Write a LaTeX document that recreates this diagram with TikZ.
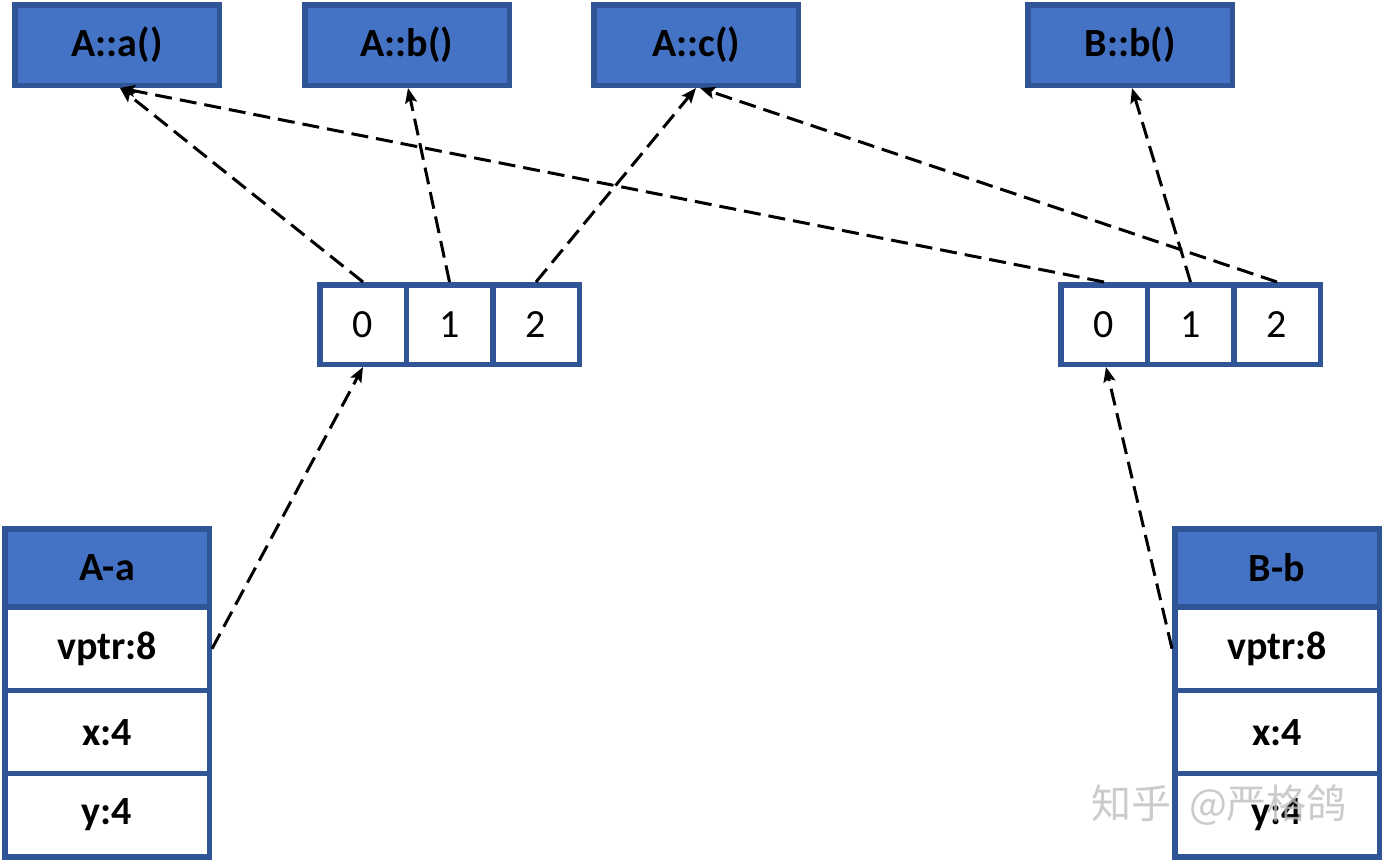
\documentclass[tikz,border=0pt]{standalone}
\usepackage{fontspec}
\setmainfont{Carlito}
\newfontfamily\cjk{Noto Sans CJK SC}
\usetikzlibrary{arrows.meta}
\definecolor{bd}{HTML}{2F5597}
\definecolor{bf}{HTML}{4472C4}
\tikzset{
  fnbox/.style={draw=bd, fill=bf, line width=5.5pt, minimum width=204.5pt, minimum height=80.5pt, inner sep=0pt, font=\bfseries\fontsize{40}{40}\selectfont},
  cell/.style={draw=bd, fill=white, line width=5.5pt, minimum width=86.5pt, minimum height=79.5pt, inner sep=0pt, font=\fontsize{40}{40}\selectfont},
  hdr/.style={draw=bd, fill=bf, line width=5.5pt, minimum width=204.5pt, minimum height=78pt, inner sep=0pt, font=\bfseries\fontsize{40}{40}\selectfont},
  row/.style={draw=bd, fill=white, line width=5.5pt, minimum width=204.5pt, minimum height=83.5pt, inner sep=0pt, font=\bfseries\fontsize{40}{40}\selectfont},
  conn/.style={draw=black, line width=3pt, dash pattern=on 17pt off 8pt, -{Stealth[length=15pt,width=12pt,inset=3pt]}}
}
\begin{document}
\begin{tikzpicture}[x=1pt,y=-1pt]
\useasboundingbox[fill=white] (0,0) rectangle (1384,863);
% function boxes
\node[fnbox] (Aa) at (117,45) {A::a()};
\node[fnbox] (Ab) at (407,45) {A::b()};
\node[fnbox] (Ac) at (696,45) {A::c()};
\node[fnbox] (Bb) at (1130,45) {B::b()};
% vtable A
\node[cell] (a0) at (363,324.5) {0};
\node[cell] (a1) at (449.5,324.5) {1};
\node[cell] (a2) at (536,324.5) {2};
% vtable B
\node[cell] (b0) at (1104,324.5) {0};
\node[cell] (b1) at (1190.5,324.5) {1};
\node[cell] (b2) at (1277,324.5) {2};
% object A
\node[hdr] (oah) at (107,568) {A-a};
\node[row] (oav) at (107,648.75) {vptr:8};
\node[row] (oax) at (107,732.25) {x:4};
\node[row] (oay) at (107,815) {y:4};
% object B
\node[hdr] (obh) at (1277,568) {B-b};
\node[row] (obv) at (1277,648.75) {vptr:8};
\node[row] (obx) at (1277,732.25) {x:4};
\node[row] (oby) at (1277,815) {y:4};
% connectors
\draw[conn] (a0.north) -- ([xshift=3pt]Aa.south);
\draw[conn] (a1.north) -- ([xshift=1pt]Ab.south);
\draw[conn] (a2.north) -- (Ac.south);
\draw[conn] (b0.north) -- ([xshift=3pt]Aa.south);
\draw[conn] (b1.north) -- ([xshift=2pt]Bb.south);
\draw[conn] (b2.north) -- ([xshift=4pt]Ac.south);
\draw[conn] (oav.east) -- (a0.south);
\draw[conn] (obv.west) -- ([xshift=2pt]b0.south);
% watermark
\node[text=black!25, opacity=0.8, font=\cjk\fontsize{40}{40}\selectfont, inner sep=0pt] (wm) at (1219,805) {知乎\ \ @严格鸽};
\end{tikzpicture}
\end{document}
